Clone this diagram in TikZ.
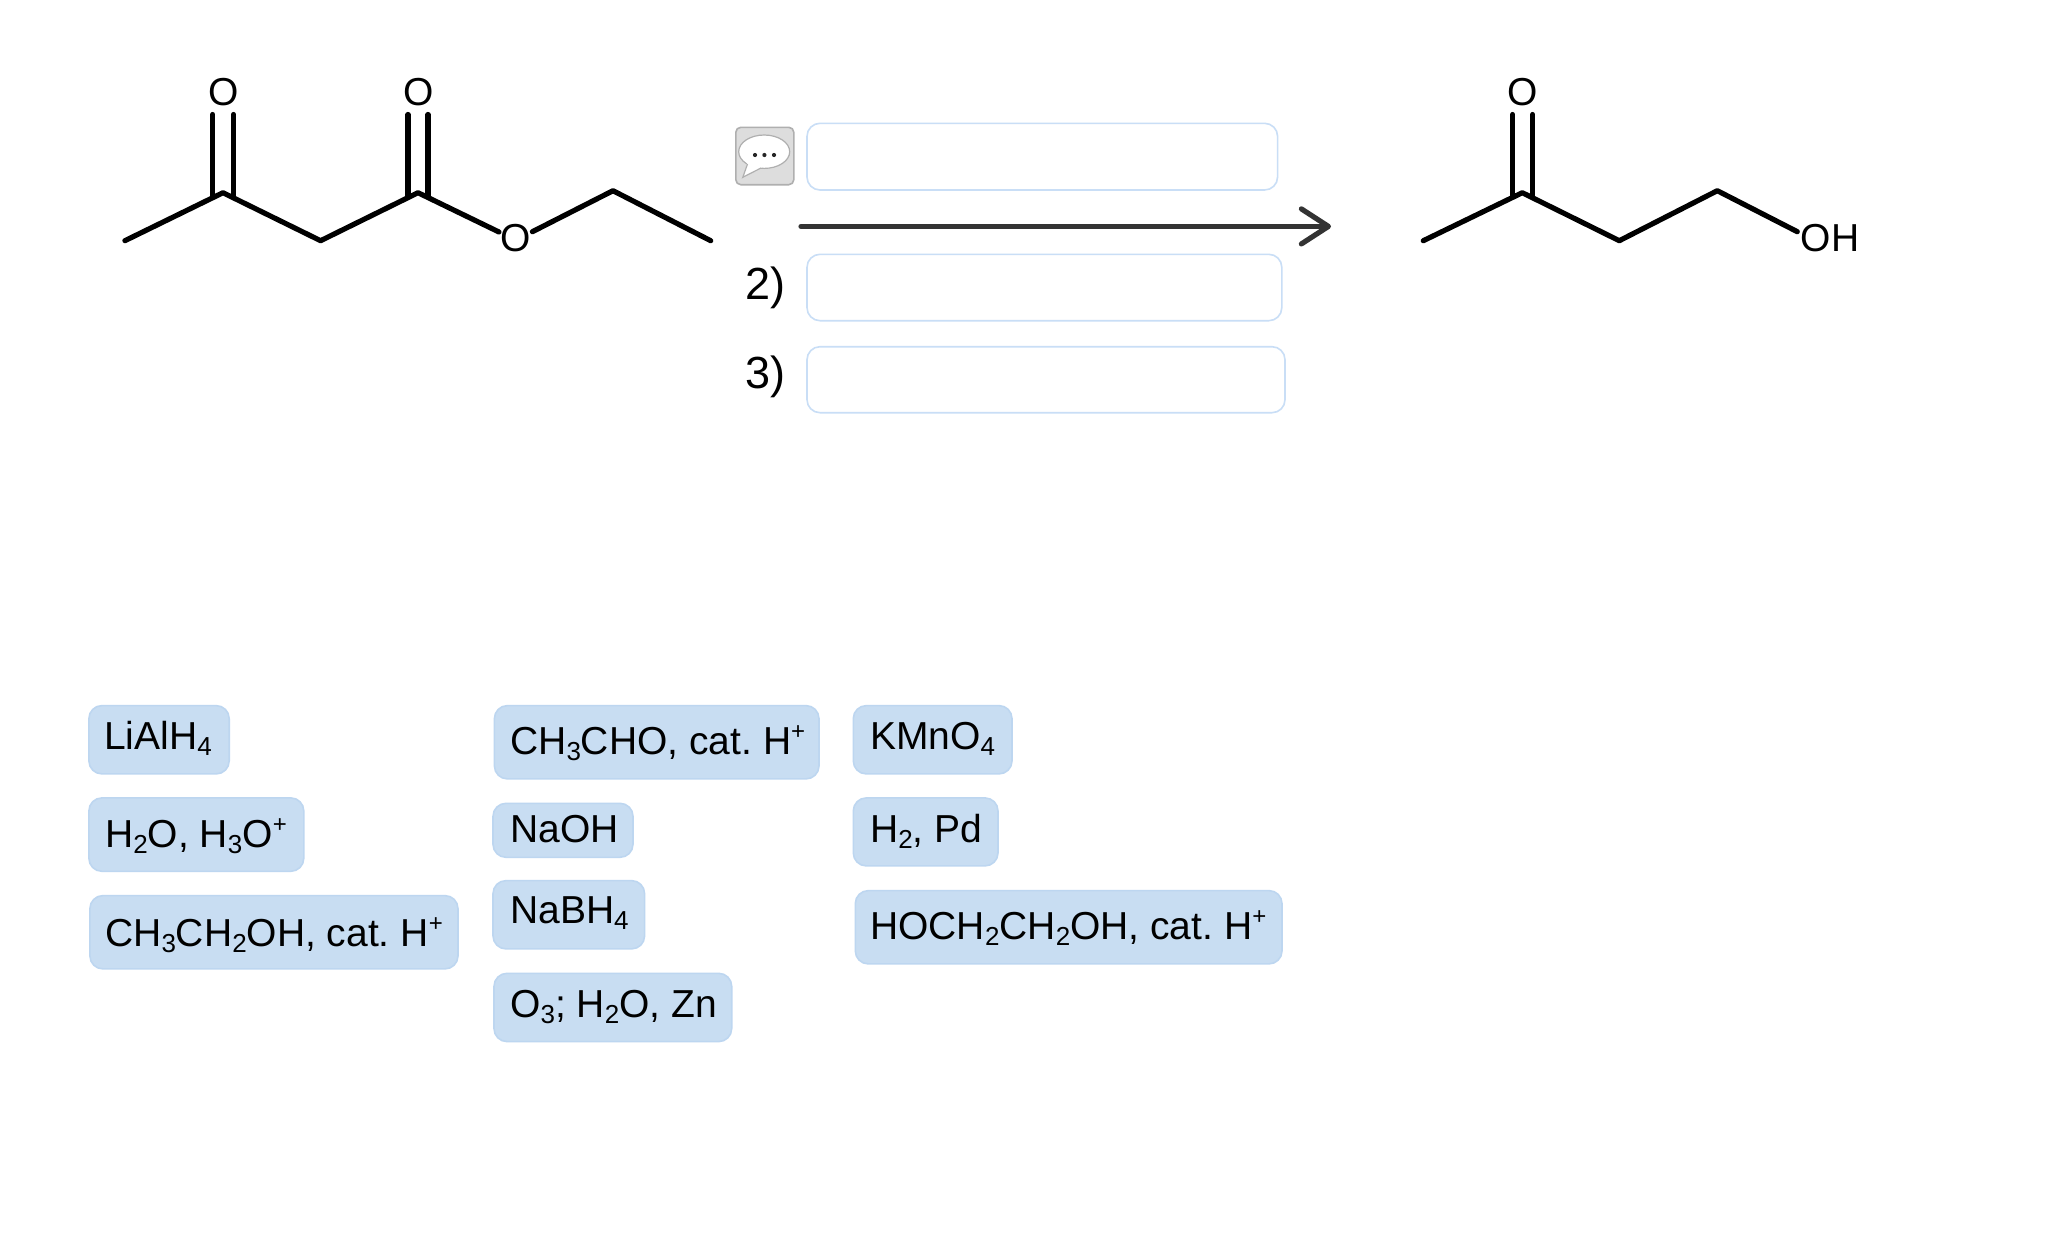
\documentclass[tikz,border=0pt]{standalone}
\usepackage{fontspec}
\setmainfont{Liberation Sans}
\usetikzlibrary{arrows.meta,calc}
\frenchspacing
\definecolor{chipfill}{HTML}{C8DDF2}
\definecolor{chipline}{HTML}{BDD6F0}
\definecolor{slotline}{HTML}{C9DEF6}
\definecolor{arrowgrey}{HTML}{333333}
\definecolor{iconfill}{HTML}{DDDDDD}
\definecolor{iconline}{HTML}{AFAFAF}
\newcommand{\sbs}[1]{\raisebox{-6pt}{\fontsize{26}{26}\selectfont #1}}
\newcommand{\sps}[1]{\raisebox{15pt}{\fontsize{24}{24}\selectfont #1}}
\tikzset{
  bond/.style={line width=5.2pt,line cap=round,line join=round,black},
  atom/.style={inner sep=0pt,font=\fontsize{39}{39}\selectfont,text=black},
  steplabel/.style={inner sep=0pt,anchor=base west,xshift=2.5pt,font=\fontsize{45}{45}\selectfont,text=black},
  slot/.style={draw=slotline,line width=1.6pt,fill=white,rounded corners=13pt,inner sep=0pt},
  chip/.style={draw=chipline,line width=1.6pt,fill=chipfill,rounded corners=13pt,inner sep=0pt,yshift=-0.6pt},
  chiptext/.style={inner sep=0pt,anchor=base west,xshift=2pt,yshift=-1.6pt,font=\fontsize{39}{39}\selectfont,text=black},
}
\newcommand{\boxat}[6]{% style, name, x0,y0,x1,y1
  \path let \n1={#5-#3},\n2={#6-#4} in
    node[#1,minimum width=\n1 pt,minimum height=\n2 pt] (#2) at ({(#3+#5)/2},{(#4+#6)/2}) {};}
\begin{document}
\begin{tikzpicture}[x=1pt,y=-1pt]
\useasboundingbox[fill=white] (0,0) rectangle (2046,1259);

% --- starting material
\coordinate (a1) at (124.9,240.7);
\coordinate (a2) at (223,192.7);
\coordinate (a3) at (320.6,240.7);
\coordinate (a4) at (418,192.7);
\coordinate (a6) at (613,190.7);
\coordinate (a7) at (710.7,240.7);
\node[atom] (ao1) at (224,92) {O};
\node[atom] (ao2) at (419,92) {O};
\node[atom] (ao3) at (515.6,238) {O};
\coordinate (a4e) at (499,232);
\coordinate (a6s) at (532.4,231.7);
\coordinate (d1lt) at (212.8,114.5); \coordinate (d1lb) at (212.8,197);
\coordinate (d1rt) at (233.5,114.5); \coordinate (d1rb) at (233.5,197);
\coordinate (d2lt) at (408,114.5);   \coordinate (d2lb) at (408,197);
\coordinate (d2rt) at (428,114.5);   \coordinate (d2rb) at (428,197);
\draw[bond] (a1) -- (a2) -- (a3) -- (a4) -- (a4e);
\draw[bond] (a6s) -- (a6) -- (a7);
\draw[bond] (d1lt) -- (d1lb);
\draw[bond] (d1rt) -- (d1rb);
\draw[bond] (d2lt) -- (d2lb);
\draw[bond] (d2rt) -- (d2rb);

% --- product
\coordinate (b1) at (1423.3,240.7);
\coordinate (b2) at (1522.3,192.7);
\coordinate (b3) at (1619.3,240.7);
\coordinate (b4) at (1717.3,190.7);
\coordinate (b5) at (1797.3,231.7);
\node[atom] (bo1) at (1522.6,92) {O};
\node[atom,anchor=base west] (boh) at (1800.7,251.5) {OH};
\coordinate (d3lt) at (1512.7,114.5); \coordinate (d3lb) at (1512.7,197);
\coordinate (d3rt) at (1532.7,114.5); \coordinate (d3rb) at (1532.7,197);
\draw[bond] (b1) -- (b2) -- (b3) -- (b4) -- (b5);
\draw[bond] (d3lt) -- (d3lb);
\draw[bond] (d3rt) -- (d3rb);

% --- reaction arrow
\coordinate (arrs) at (801,226.4);
\coordinate (arre) at (1331,226.4);
\draw[line width=5.2pt,arrowgrey,line cap=round,
  -{Straight Barb[length=27pt,width=35pt,round]}] (arrs) -- (arre);

% --- answer slots
\boxat{slot}{slot1}{807}{123.3}{1277.6}{190}
\boxat{slot}{slot2}{807}{254.3}{1281.8}{320.7}
\boxat{slot}{slot3}{807}{346.7}{1285}{412.7}
\node[steplabel] (lab2) at (742.5,299) {2)};
\node[steplabel] (lab3) at (742.5,388) {3)};

% --- comment icon
\boxat{draw=iconline,fill=iconfill,line width=1.6pt,rounded corners=5pt,inner sep=0pt}{icon}{735.8}{127.3}{793.8}{184.7}
\draw[iconline,line width=1.2pt,fill=white] (764.2,151.7) ellipse [x radius=25.5pt,y radius=16.7pt];
\fill[white] (748,161) -- (742.8,177.3) -- (762,167) -- cycle;
\draw[iconline,line width=1.2pt] (747.5,164) -- (742.8,177.3) -- (761,168);
\fill[black!85] (755,155) circle[radius=2.1pt];
\fill[black!85] (764.4,155) circle[radius=2.1pt];
\fill[black!85] (774,155) circle[radius=2.1pt];

% --- reagent chips
\boxat{chip}{c1}{88.9}{705}{229.2}{773.3}
\node[chiptext] (t1) at (102,748.3) {LiAlH\sbs{4}};
\boxat{chip}{c2}{88.9}{797.3}{303.8}{870.7}
\node[chiptext] (t2) at (103,846) {H\sbs{2}O, H\sbs{3}O\sps{+}};
\boxat{chip}{c3}{89.9}{895}{458}{968.3}
\node[chiptext] (t3) at (103,945) {CH\sbs{3}CH\sbs{2}OH, cat. H\sps{+}};
\boxat{chip}{c4}{494.4}{705}{819}{778.3}
\node[chiptext] (t4) at (508,753.3) {CH\sbs{3}CHO, cat. H\sps{+}};
\boxat{chip}{c5}{493}{802.7}{633}{856.7}
\node[chiptext] (t5) at (508,840.7) {NaOH};
\boxat{chip}{c6}{493}{880}{644.6}{948.3}
\node[chiptext] (t6) at (508,922.3) {NaBH\sbs{4}};
\boxat{chip}{c7}{494}{972.7}{731.7}{1041}
\node[chiptext] (t7) at (508,1016) {O\sbs{3}; H\sbs{2}O, Zn};
\boxat{chip}{c8}{853.3}{705}{1012}{773.3}
\node[chiptext] (t8) at (868,748.3) {KMnO\sbs{4}};
\boxat{chip}{c9}{853.3}{797.3}{998}{865.3}
\node[chiptext] (t9) at (868,841) {H\sbs{2}, Pd};
\boxat{chip}{c10}{855.3}{890}{1282}{963.3}
\node[chiptext] (t10) at (868,938.3) {HOCH\sbs{2}CH\sbs{2}OH, cat. H\sps{+}};
\end{tikzpicture}
\end{document}
